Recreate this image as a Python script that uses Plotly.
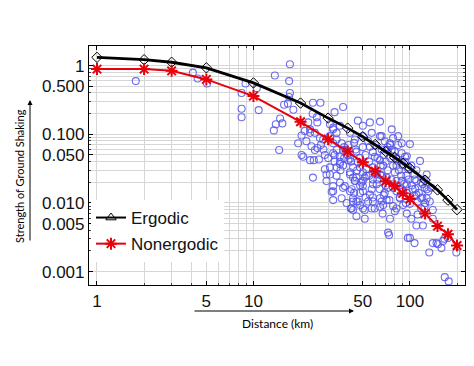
import plotly.graph_objects as go

# ---------------- data ----------------
distance_km = [1, 2, 3, 5, 10, 20, 30, 40, 50, 60, 70, 80, 90, 100, 125, 150, 175, 200]
ergodic = [1.32, 1.22, 1.12, 0.93, 0.56, 0.285, 0.172, 0.123, 0.092, 0.071, 0.056, 0.046,
           0.038, 0.032, 0.0215, 0.0155, 0.0110, 0.0080]
nonergodic = [0.89, 0.89, 0.84, 0.63, 0.36, 0.152, 0.085, 0.056, 0.039, 0.029, 0.0207, 0.0176,
              0.0138, 0.0114, 0.0070, 0.0046, 0.0035, 0.0024]

obs_dist = [
    1.77, 4.1, 4.4, 5.05, 8.4, 8.4, 8.4, 8.9, 10.8, 10.5,
    13.7, 17.1, 16.9, 17.1, 16.9, 16.6, 15.7, 18, 14.8, 13.9, 15.3, 13.5, 14.6,
    24, 26.8, 23.9, 25.4, 25.6, 22.4, 21.3, 23, 24.7, 20.3, 19.3, 21.8, 23.5, 25.6, 20.3, 23, 24.3,
    26.2, 24, 28.6, 30.8, 29.3, 32.3,
    30.8, 32.3, 34, 35.7, 30.8, 27.9, 36.6, 39.4, 34, 35.7, 40.4, 37.4, 43.3, 41.4, 45.5, 49, 42.4,
    50.1, 45.5, 42.4, 50.1, 54,
    64.4, 57, 65.9, 69, 76.5, 88.6, 100, 116, 95.5, 82, 64.4, 58, 61.3, 71, 82, 95.5, 110, 104, 124,
    128, 110, 102,
    32.3, 31.6, 41.9, 45.5, 51.4, 51.4, 46.5, 59.6, 66.9, 74.6, 80, 72.5, 73.6, 65.9, 90.5, 102, 100,
    107, 112, 118, 121, 140, 140, 133, 140, 151, 159, 175, 163, 198, 167, 177, 128, 134,
    32.3, 58, 64.4, 82, 86.4, 95.5, 100, 110, 97, 148, 166, 43.3, 48, 57, 37.4, 44.5, 51.4, 61.3, 69,
    78, 90.5, 107, 118, 137, 124, 71, 57,
    32.3, 34, 32.3, 35.7, 34, 41.4, 44.5, 40.4, 45.5, 41.4, 48, 41.4, 44.5, 38.4, 50, 52.7, 50, 55.5,
    59.6, 64.4, 71, 67.5, 64.4, 58, 55.5, 72.5, 74.6, 82, 93, 97.6, 107, 88.6, 82, 95.5, 110, 121,
    128, 36.6, 43.3, 33, 37.4, 46.5, 50, 55.5, 78, 84, 76.5,
    20.8, 23, 24.7, 28.6, 29.3, 34, 35.7, 39.4, 41.4, 43.3, 37.4, 32.3, 26.6, 35.7, 30.8, 46.5, 52.7,
    58, 50, 64.4, 48, 67.5, 43.3,
    74.6, 80, 93, 97.6, 107, 118, 131, 112, 124, 84, 88.6,
    40, 45, 48, 52, 55, 58, 62, 65, 68, 70, 72, 75, 78, 80, 85, 88, 90, 95, 60, 62, 66, 70, 76, 82,
    88, 92, 55, 50, 46, 42, 38, 36, 33, 30, 28, 27, 33, 38, 44, 50, 54, 60, 66, 72, 78, 84, 98, 103,
    108, 114, 120, 125, 64, 58, 52, 48, 44, 68, 74, 78, 86, 94,
]
obs_val = [
    0.595, 0.79, 0.65, 0.55, 0.236, 0.177, 0.40, 0.55, 0.225, 0.47,
    0.72, 1.05, 0.595, 0.40, 0.35, 0.28, 0.27, 0.228, 0.17, 0.14, 0.144, 0.114, 0.059,
    0.288, 0.288, 0.199, 0.177, 0.149, 0.149, 0.112, 0.118, 0.105, 0.096, 0.074, 0.079, 0.067, 0.063,
    0.050, 0.042, 0.042,
    0.043, 0.0234, 0.031, 0.026, 0.0209, 0.0176,
    0.14, 0.118, 0.105, 0.133, 0.094, 0.084, 0.074, 0.059, 0.059, 0.047, 0.042, 0.035, 0.033, 0.026,
    0.0234, 0.0198, 0.0158,
    0.0148, 0.0105, 0.0083, 0.0083, 0.0105,
    0.153, 0.105, 0.094, 0.079, 0.059, 0.053, 0.072, 0.041, 0.048, 0.035, 0.042, 0.033, 0.026, 0.0234,
    0.0209, 0.0187, 0.0209, 0.0158, 0.0166,
    0.026, 0.03, 0.035,
    0.011, 0.0145, 0.0083, 0.0064, 0.0079, 0.0059, 0.0105, 0.0083, 0.0070, 0.0059, 0.0076, 0.0037,
    0.0034, 0.0105, 0.0093, 0.0059, 0.0031,
    0.0026, 0.0068, 0.0083, 0.0047, 0.0079, 0.0059, 0.0019, 0.0026, 0.0025, 0.0022, 0.0031, 0.0028,
    0.0019, 0.00083, 0.00072, 0.0158, 0.0105,
    0.0148, 0.0105, 0.0088, 0.0083, 0.0117, 0.007, 0.0097, 0.0047, 0.0031, 0.0026, 0.003, 0.0117,
    0.014, 0.0158, 0.0166, 0.0209, 0.0234, 0.0187, 0.014,
    0.0166, 0.0148, 0.0125, 0.0117, 0.0166, 0.022, 0.011, 0.0083,
    0.125, 0.084, 0.053, 0.037, 0.025, 0.105, 0.084, 0.07, 0.056, 0.044, 0.033, 0.028, 0.021, 0.0176,
    0.021, 0.025, 0.094, 0.066,
    0.047, 0.094, 0.059, 0.035, 0.026, 0.0187, 0.0132, 0.0166, 0.074, 0.044, 0.0396, 0.031, 0.022,
    0.021, 0.0148, 0.014, 0.0132, 0.0187,
    0.0117, 0.0117, 0.0105, 0.21, 0.25, 0.158, 0.133, 0.149, 0.088, 0.07, 0.118,
    0.047, 0.105, 0.059, 0.05, 0.026, 0.033, 0.0198, 0.01, 0.0148, 0.0234, 0.059, 0.074, 0.088,
    0.0396, 0.033, 0.0396, 0.031,
    0.022, 0.0176, 0.0117, 0.0093, 0.0093, 0.0079,
    0.07, 0.056, 0.047, 0.033, 0.026, 0.0198, 0.0148, 0.0105, 0.0088, 0.094, 0.074,
    0.05, 0.06, 0.045, 0.05, 0.04, 0.055, 0.045, 0.035, 0.05, 0.04, 0.03, 0.045, 0.035, 0.028, 0.03,
    0.025, 0.035, 0.025, 0.028, 0.022, 0.025, 0.018, 0.022, 0.018,
    0.016, 0.019, 0.025, 0.028, 0.03, 0.04, 0.045, 0.03, 0.04, 0.045, 0.06, 0.07, 0.05, 0.065, 0.075,
    0.065, 0.08, 0.07, 0.06, 0.065, 0.048, 0.04, 0.022, 0.018,
    0.016, 0.014, 0.012, 0.01, 0.016, 0.012, 0.012, 0.018, 0.014, 0.013, 0.011, 0.009, 0.012, 0.01,
]

x_tick_vals = [1, 5, 10, 50, 100]
x_tick_text = ["1", "5", "10", "50", "100"]
y_tick_vals = [0.001, 0.005, 0.01, 0.05, 0.1, 0.5, 1]
y_tick_text = ["0.001", "0.005", "0.010", "0.050", "0.100", "0.500", "1"]

x_minor = [m * 10 ** e for e in range(0, 3) for m in range(1, 10)]
y_minor = [m * 10.0 ** e for e in range(-3, 1) for m in range(1, 10)]

# ---------------- figure ----------------
fig = go.Figure()

fig.add_trace(go.Scatter(
    x=obs_dist, y=obs_val, mode="markers", showlegend=False,
    marker=dict(symbol="circle-open", size=7, color="rgba(85,85,235,0.85)",
                line=dict(width=1.1)),
))
fig.add_trace(go.Scatter(
    x=distance_km, y=ergodic, mode="lines+markers", showlegend=False,
    line=dict(color="black", width=2.8),
    marker=dict(symbol="diamond-open", size=8, color="black", line=dict(width=1)),
))
star = dict(symbol="asterisk-open", size=10, color="#e8000b", line=dict(width=2, color="#e8000b"))
fig.add_trace(go.Scatter(
    x=distance_km, y=nonergodic, mode="lines+markers", showlegend=False,
    line=dict(color="#e8000b", width=2), marker=star,
))
# legend entries
fig.add_trace(go.Scatter(
    x=[None], y=[None], mode="lines+markers", name="Ergodic", legendgroup="a",
    line=dict(color="black", width=2),
    marker=dict(symbol="triangle-up-open", size=9, color="black", line=dict(width=1)),
))
fig.add_trace(go.Scatter(
    x=[None], y=[None], mode="lines+markers", name="Nonergodic", legendgroup="b",
    line=dict(color="#e8000b", width=2), marker=star,
))

# page body has an 8px margin: the figure is offset by (8, 8) on screen
OFF = 8
L, R, T, B = 89 - OFF, 9, 46 - OFF, 89 - OFF
W, H = 474 - OFF, 366 - OFF
pw, ph = W - L - R, H - T - B

def px(xs):  # screen x -> paper
    return (xs - OFF - L) / pw

def py(ys):  # screen y -> paper
    return (H - B - (ys - OFF)) / ph

grid_col = "#d6d6d6"
tick_font = dict(family="Liberation Sans, Arial, sans-serif", size=17, color="#111")

fig.update_xaxes(
    type="log", range=[-0.051, 2.352],
    tickmode="array", tickvals=x_tick_vals, ticktext=x_tick_text,
    showgrid=True, gridcolor=grid_col, gridwidth=1,
    ticks="inside", ticklen=4, tickcolor="black",
    showline=True, linecolor="black", linewidth=1.2, mirror="ticks",
    minor=dict(tickvals=x_minor, showgrid=True, gridcolor=grid_col, gridwidth=1,
               ticks="inside", ticklen=2, tickcolor="#444"),
    tickfont=tick_font, zeroline=False,
)
fig.update_yaxes(
    type="log", range=[-3.195, 0.286],
    tickmode="array", tickvals=y_tick_vals, ticktext=y_tick_text,
    showgrid=True, gridcolor=grid_col, gridwidth=1,
    ticks="inside", ticklen=4, tickcolor="black",
    showline=True, linecolor="black", linewidth=1.2, mirror="ticks",
    minor=dict(tickvals=y_minor, showgrid=True, gridcolor=grid_col, gridwidth=1,
               ticks="inside", ticklen=2, tickcolor="#444"),
    tickfont=tick_font, zeroline=False,
)

fig.update_layout(
    width=W, height=H,
    margin=dict(l=L, r=R, t=T, b=B, pad=0),
    paper_bgcolor="white", plot_bgcolor="white",
    showlegend=True,
    legend=dict(
        x=px(91), y=py(200), xanchor="left", yanchor="top",
        bgcolor="white", borderwidth=0,
        font=dict(family="Liberation Sans, Arial, sans-serif", size=17, color="#111"),
        tracegroupgap=1, itemwidth=30,
    ),
    annotations=[
        dict(xref="paper", yref="paper", x=px(30), y=py(100), ax=0, ay=142,
             axref="pixel", ayref="pixel", text="", showarrow=True,
             arrowhead=2, arrowsize=1, arrowwidth=1, arrowcolor="black"),
        dict(xref="paper", yref="paper", x=px(354), y=py(311), ax=-161, ay=0,
             axref="pixel", ayref="pixel", text="", showarrow=True,
             arrowhead=2, arrowsize=1, arrowwidth=1, arrowcolor="black"),
        dict(xref="paper", yref="paper", x=px(277), y=py(323), text="Distance (km)",
             showarrow=False, font=dict(family="Lato, sans-serif", size=12, color="black"),
             xanchor="center", yanchor="middle"),
        dict(xref="paper", yref="paper", x=px(19), y=py(176), text="Strength of Ground Shaking",
             showarrow=False, textangle=-90,
             font=dict(family="Lato, sans-serif", size=11, color="black"),
             xanchor="center", yanchor="middle"),
    ],
)

fig.write_html("out.html")
